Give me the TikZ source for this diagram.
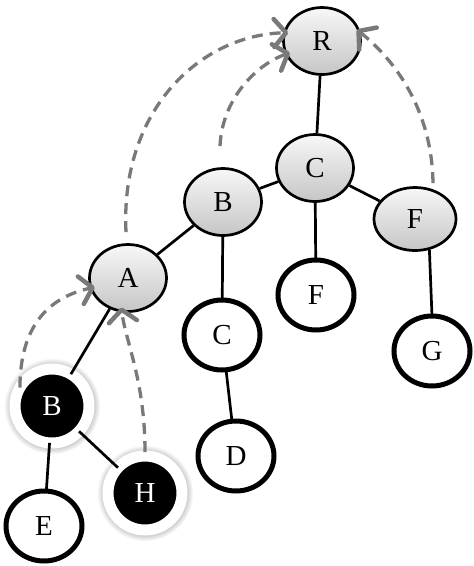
\documentclass[tikz,border=0pt]{standalone}
\usepackage{fontspec}
\setmainfont{Liberation Serif}
\usetikzlibrary{shapes.geometric,arrows.meta,shadows,fadings}

\tikzset{
  graynode/.style={ellipse, draw=black, line width=2.7pt, top color=gray!6, bottom color=gray!45,
    minimum width=77pt, minimum height=67pt, inner sep=0pt, font=\fontsize{29}{32}\selectfont},
  whitenode/.style={ellipse, draw=black, line width=5pt, fill=white,
    minimum width=76pt, minimum height=70pt, inner sep=0pt, outer sep=0pt, font=\fontsize{29}{32}\selectfont},
  blacknode/.style={circle, fill=black, text=white, draw=white, line width=11pt, minimum size=74pt,
    inner sep=0pt, outer sep=0pt, font=\fontsize{29}{32}\selectfont,
    circular drop shadow={shadow xshift=0pt, shadow yshift=0pt, shadow scale=1.3, opacity=0.45}},
  link/.style={draw=black, line width=2.7pt},
  backlink/.style={draw=gray!95!black, line width=3.3pt, dash pattern=on 11pt off 7pt, shorten >=-5pt,
    -{Straight Barb[length=12pt,width=28pt,line width=4.5pt 0,round]}}
}

\begin{document}
\begin{tikzpicture}[x=1pt,y=-1pt]
\useasboundingbox (0,0) rectangle (474,566);

% tree
\node[graynode] (R) at (322,41) {R};
\node[graynode] (C1) at (315,168) {C};
\node[graynode] (B1) at (223,202) {B};
\node[graynode, minimum width=82pt, minimum height=63pt] (F1) at (415,219) {F};
\node[graynode] (A) at (128,278) {A};

\node[whitenode] (F2) at (316,295) {F};
\node[whitenode] (C2) at (222,335) {C};
\node[whitenode] (G) at (432,351) {G};
\node[whitenode] (D) at (236,456) {D};
\node[whitenode] (E) at (44,526) {E};

\node[blacknode] (B2) at (52,406) {B};
\node[blacknode] (H) at (145,493) {H};

\draw[link] (R) -- (C1);
\draw[link] (C1) -- (B1);
\draw[link] (C1) -- (F1);
\draw[link] (B1) -- (A);
\draw[link] (B1) -- (C2);
\draw[link] (C1) -- (F2);
\draw[link] (F1.-65) -- (G.north);
\draw[link] (C2) -- (D);
\draw[link] (A) -- (B2);
\draw[link] (B2) -- (H);
\draw[link] (B2) -- (E);

% back links
\draw[backlink] (A.north) ++(-2,-11) .. controls (120,110) and (200,35) .. (R.168);
\draw[backlink] (B1.north) ++(-3,-21) .. controls (222,100) and (255,65) .. (R.-160);
\draw[backlink] (F1.north) ++(18,-3) .. controls (432,110) and (395,60) .. (R.12);
\draw[backlink] (B2.150) .. controls (20,330) and (45,298) .. (A.-165);
\draw[backlink] (H.north) ++(0,-4) .. controls (145,380) and (125,340) .. (A.-100);

\end{tikzpicture}
\end{document}
